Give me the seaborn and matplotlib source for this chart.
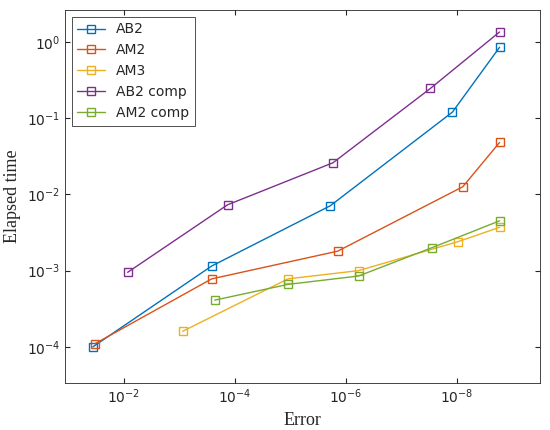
import numpy as np
import pandas as pd
import seaborn as sns
import matplotlib
matplotlib.use("Agg")
import matplotlib.pyplot as plt

series = ["AB2", "AM2", "AM3", "AB2 comp", "AM2 comp"]
err_ab2 = [3.6e-2, 2.6e-4, 1.9e-6, 1.2e-8, 1.7e-9]
t_ab2 = [1.0e-4, 1.15e-3, 7.1e-3, 1.2e-1, 8.5e-1]
err_am2 = [3.3e-2, 2.6e-4, 1.4e-6, 7.8e-9, 1.7e-9]
t_am2 = [1.1e-4, 7.8e-4, 1.8e-3, 1.26e-2, 4.8e-2]
err_am3 = [8.7e-4, 1.1e-5, 5.9e-7, 9.5e-9, 1.7e-9]
t_am3 = [1.6e-4, 7.8e-4, 1.0e-3, 2.4e-3, 3.7e-3]
err_ab2c = [8.5e-3, 1.35e-4, 1.7e-6, 3.0e-8, 1.7e-9]
t_ab2c = [9.5e-4, 7.3e-3, 2.6e-2, 2.45e-1, 1.35]
err_am2c = [2.3e-4, 1.1e-5, 5.9e-7, 2.8e-8, 1.7e-9]
t_am2c = [4.1e-4, 6.6e-4, 8.5e-4, 2.0e-3, 4.5e-3]

errs = [err_ab2, err_am2, err_am3, err_ab2c, err_am2c]
times = [t_ab2, t_am2, t_am3, t_ab2c, t_am2c]
df = pd.concat([pd.DataFrame({"Error": e, "Time": t, "Method": s, "order": range(len(e))})
                for s, e, t in zip(series, errs, times)])

colors = ["#0072BD", "#D95319", "#EDB120", "#7E2F8E", "#77AC30"]
sns.set_style("ticks")
plt.rcParams['font.family'] = ['DejaVu Sans']
fig, ax = plt.subplots(figsize=(5.5, 4.3), dpi=100)
sns.lineplot(data=df, x="Error", y="Time", hue="Method", palette=colors, sort=False,
             marker="s", markersize=6, markerfacecolor="none", markeredgewidth=1,
             linewidth=1, ax=ax, estimator=None, units="Method")
for ln, c in zip(ax.lines, colors):
    ln.set_markeredgecolor(c)
ax.set_xscale("log"); ax.set_yscale("log")
ax.set_xlim(10**-0.94, 10**-9.5)
ax.set_ylim(10**-4.47, 10**0.42)
ax.set_xticks([1e-2, 1e-4, 1e-6, 1e-8])
ax.set_yticks([1e-4, 1e-3, 1e-2, 1e-1, 1])
ax.set_yticklabels(["$10^{-4}$", "$10^{-3}$", "$10^{-2}$", "$10^{-1}$", "$10^{0}$"])
ax.minorticks_off()
ax.tick_params(direction="in", top=True, right=True, labelsize=10)
for s in ax.spines.values():
    s.set_visible(True); s.set_linewidth(0.6)
ax.set_xlabel("Error", family="Liberation Serif", fontsize=13)
ax.set_ylabel("Elapsed time", family="Liberation Serif", fontsize=13)
leg = ax.legend(loc="upper left", fontsize=10, frameon=True, fancybox=False, edgecolor="black")
leg.get_frame().set_linewidth(0.6)
for h, c in zip(leg.legend_handles, colors):
    h.set_marker("s"); h.set_markerfacecolor("none"); h.set_markeredgecolor(c)
plt.subplots_adjust(left=0.118, right=0.982, top=0.977, bottom=0.11)
fig.savefig("out.png")
